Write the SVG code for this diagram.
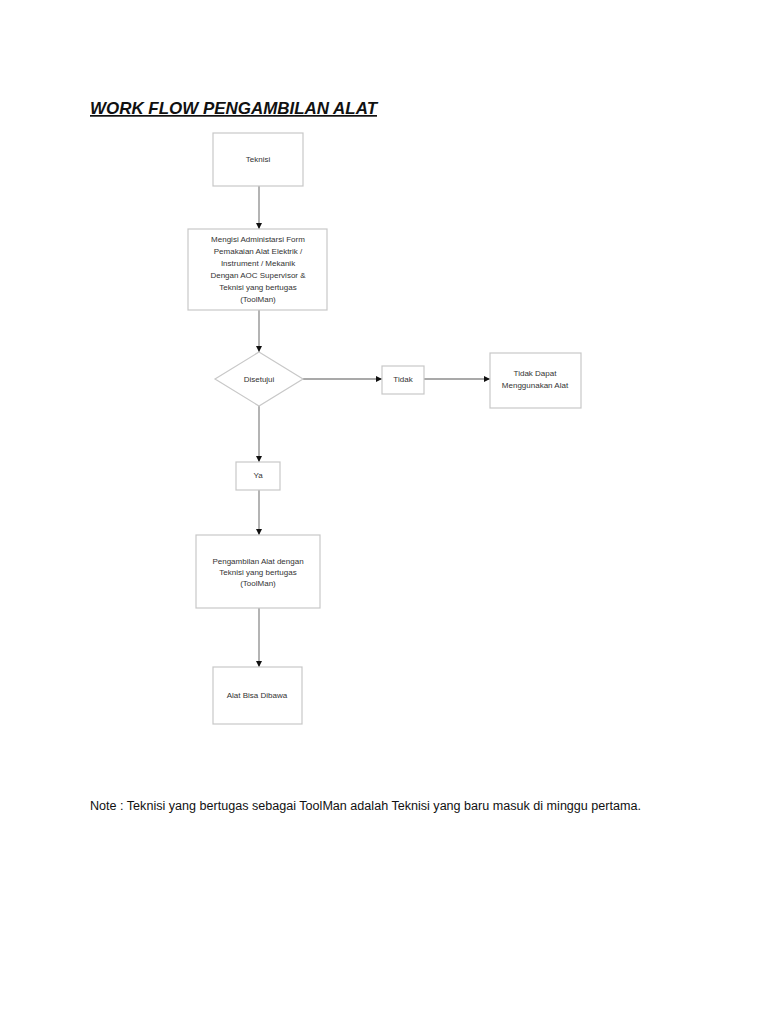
<svg xmlns="http://www.w3.org/2000/svg" width="768" height="1024" viewBox="0 0 768 1024">
<style>
.b{fill:#fff;stroke:#c8c8c8;stroke-width:1.2}
.t{font-family:"Liberation Sans",Arial,sans-serif;font-size:8px;fill:#333;text-anchor:middle}
.c{stroke:#8c8c8c;stroke-width:1.3;fill:none;marker-end:url(#a)}
</style>
<defs><marker id="a" markerWidth="6" markerHeight="6" refX="6" refY="3" orient="auto" markerUnits="userSpaceOnUse"><path d="M0,0L6,3L0,6z" fill="#111"/></marker></defs>
<rect width="768" height="1024" fill="#fff"/>
<text x="90" y="114" font-family="Liberation Sans,Arial,sans-serif" font-size="17" font-weight="bold" font-style="italic" text-decoration="underline" fill="#111" textLength="287" lengthAdjust="spacingAndGlyphs">WORK FLOW PENGAMBILAN ALAT</text>
<g id="connectors">
<line class="c" x1="259" y1="186" x2="259" y2="229"/>
<line class="c" x1="259" y1="310" x2="259" y2="352"/>
<line class="c" x1="303" y1="379" x2="382" y2="379"/>
<line class="c" x1="424" y1="379" x2="490" y2="379"/>
<line class="c" x1="259" y1="406" x2="259" y2="462"/>
<line class="c" x1="259" y1="490" x2="259" y2="535"/>
<line class="c" x1="259" y1="608" x2="259" y2="667"/>
</g>
<g id="n1"><rect class="b" x="213" y="133" width="90" height="53"/><text class="t" x="258" y="162">Teknisi</text></g>
<g id="n2"><rect class="b" x="188" y="229" width="139" height="81"/><text class="t" y="242"><tspan x="258" dy="0">Mengisi Administarsi Form</tspan><tspan x="258" dy="12">Pemakaian Alat Elektrik /</tspan><tspan x="258" dy="12">Instrument / Mekanik</tspan><tspan x="258" dy="12">Dengan AOC Supervisor &amp;</tspan><tspan x="258" dy="12">Teknisi yang bertugas</tspan><tspan x="258" dy="12">(ToolMan)</tspan></text></g>
<g id="n3"><polygon class="b" points="259,352 303,379 259,406 215,379"/><text class="t" x="259" y="382">Disetujui</text></g>
<g id="n4"><rect class="b" x="382" y="366" width="42" height="28"/><text class="t" x="403" y="382">Tidak</text></g>
<g id="n5"><rect class="b" x="490" y="353" width="91" height="55"/><text class="t" y="376"><tspan x="535" dy="0">Tidak Dapat</tspan><tspan x="535" dy="12">Menggunakan Alat</tspan></text></g>
<g id="n6"><rect class="b" x="236" y="462" width="44" height="28"/><text class="t" x="258" y="478">Ya</text></g>
<g id="n7"><rect class="b" x="196" y="535" width="124" height="73"/><text class="t" y="564"><tspan x="258" dy="0">Pengambilan Alat dengan</tspan><tspan x="258" dy="11">Teknisi yang bertugas</tspan><tspan x="258" dy="11">(ToolMan)</tspan></text></g>
<g id="n8"><rect class="b" x="213" y="667" width="89" height="57"/><text class="t" x="257" y="698">Alat Bisa Dibawa</text></g>
<text x="90" y="810" font-family="Liberation Sans,Arial,sans-serif" font-size="12" fill="#111" textLength="551" lengthAdjust="spacingAndGlyphs">Note : Teknisi yang bertugas sebagai ToolMan adalah Teknisi yang baru masuk di minggu pertama.</text>
</svg>
